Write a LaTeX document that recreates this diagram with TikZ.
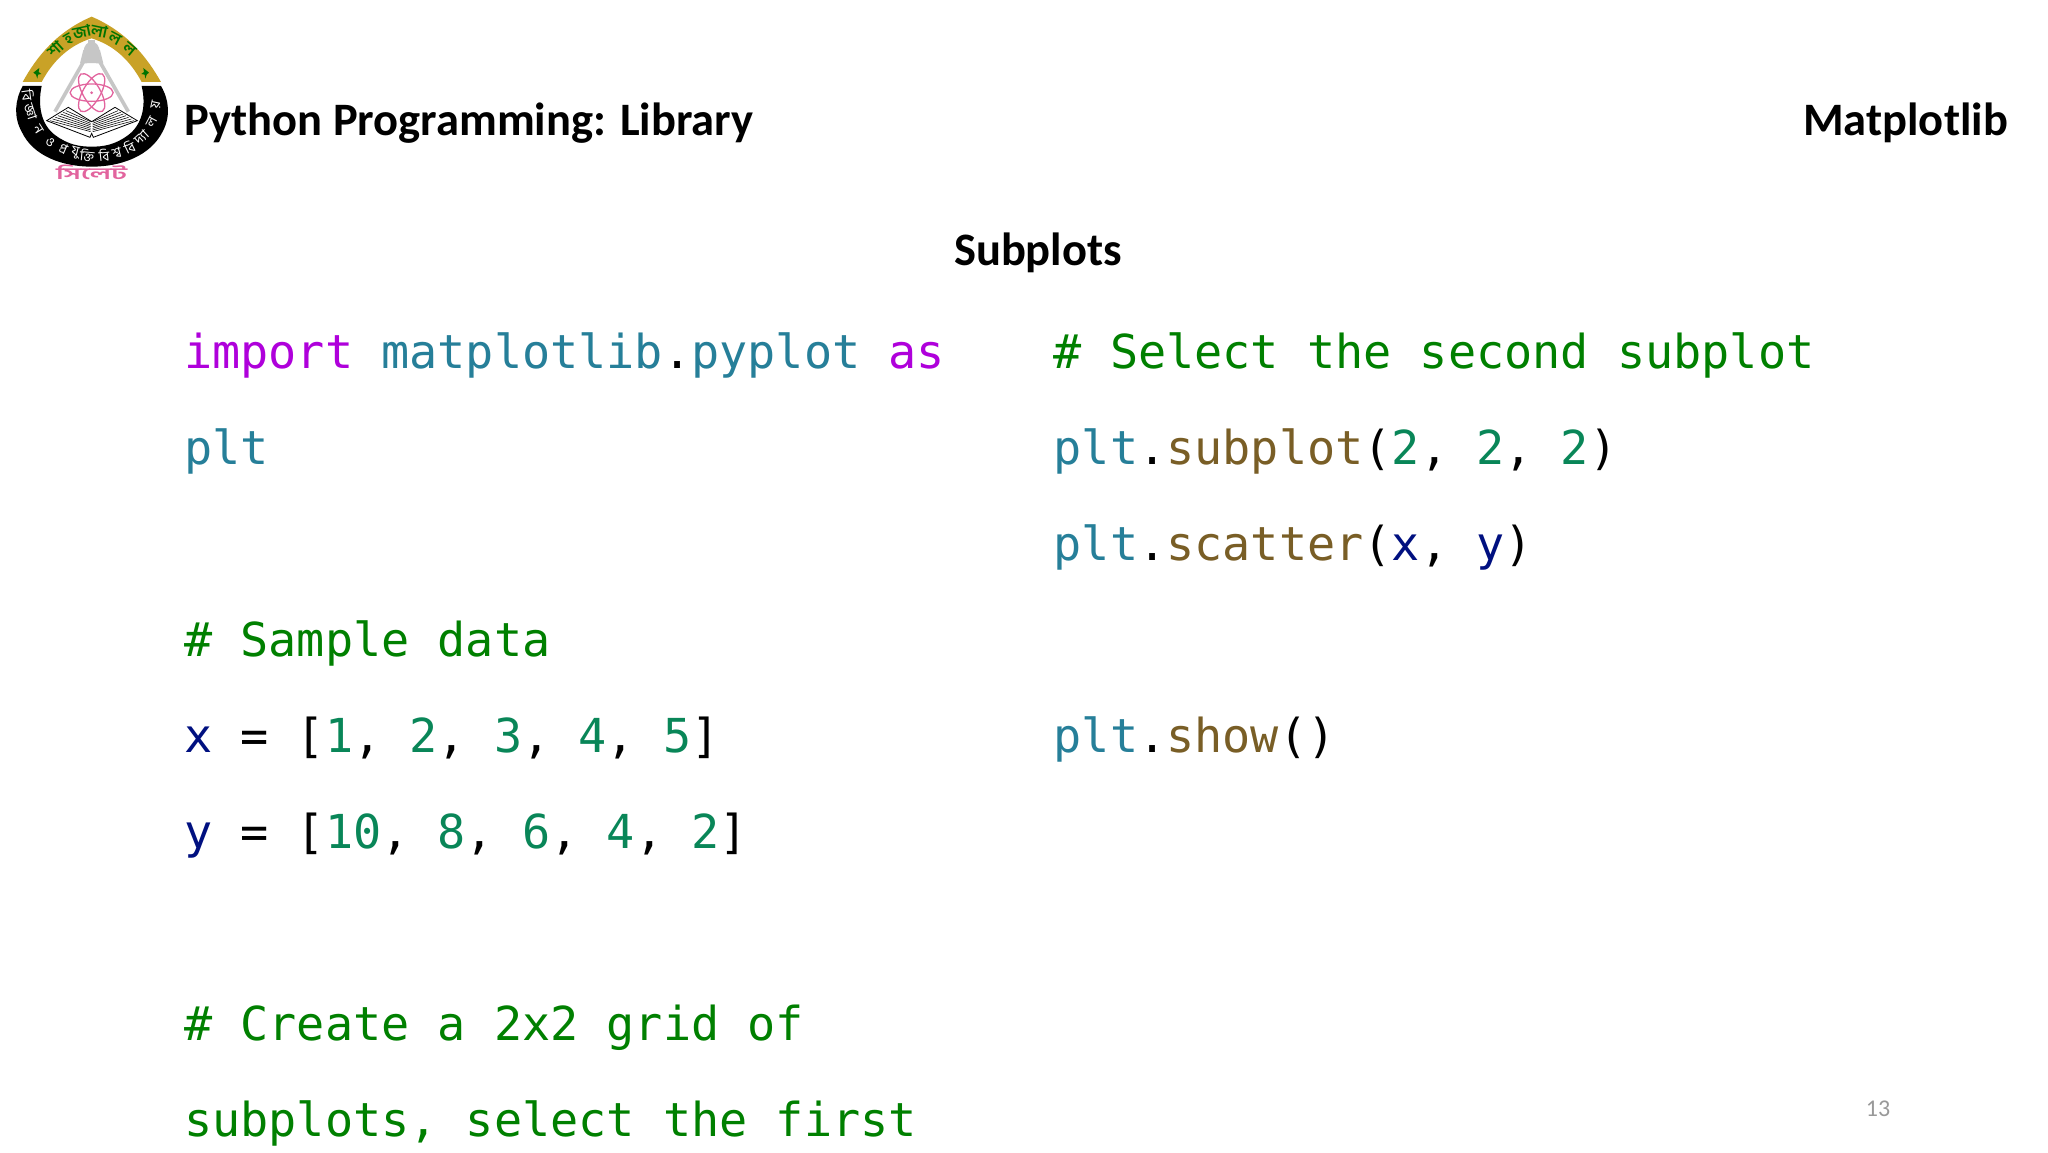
\documentclass[tikz,border=0pt]{standalone}
\usepackage{fontspec}
\setmainfont{Carlito}
\setmonofont{DejaVu Sans Mono}
\newfontfamily\bnfont[Script=Bengali]{Hind Siliguri}
\definecolor{kw}{HTML}{AF00DB}
\definecolor{cl}{HTML}{267F99}
\definecolor{cm}{HTML}{008000}
\definecolor{nu}{HTML}{098658}
\definecolor{va}{HTML}{001080}
\definecolor{fn}{HTML}{795E26}
\definecolor{gold}{HTML}{C9A227}
\definecolor{lpink}{HTML}{E2649E}
\newcommand{\K}[1]{\textcolor{kw}{#1}}
\newcommand{\C}[1]{\textcolor{cl}{#1}}
\newcommand{\G}[1]{\textcolor{cm}{#1}}
\newcommand{\N}[1]{\textcolor{nu}{#1}}
\newcommand{\V}[1]{\textcolor{va}{#1}}
\newcommand{\F}[1]{\textcolor{fn}{#1}}
\tikzset{
 head/.style={font=\fontsize{46.5}{46.5}\selectfont\bfseries,inner sep=0pt,anchor=base},
 code/.style={font=\fontsize{46.8}{46.8}\selectfont\ttfamily,inner sep=0pt,anchor=base west,text=black},
 band/.style={font=\bnfont\fontsize{13.5}{13.5}\selectfont,text=white,inner sep=0pt},
 arch/.style={font=\bnfont\bfseries\fontsize{16}{16}\selectfont,text=green!45!black,inner sep=0pt},
}
\begin{document}
\begin{tikzpicture}[x=1pt,y=-1pt]
\useasboundingbox (0,0) rectangle (2048,1152);
\fill[white] (0,0) rectangle (2048,1152);
% logo
\begin{scope}[x=0.3333pt,y=-0.3333pt]
\fill[black] (68,258) .. controls (45,300) and (40,350) .. (65,395) .. controls (100,470) and (190,500) .. (275,500) .. controls (360,500) and (450,470) .. (488,395) .. controls (512,350) and (508,300) .. (483,258) -- (425,258) .. controls (440,320) and (425,375) .. (385,405) .. controls (345,435) and (310,440) .. (275,440) .. controls (240,440) and (205,435) .. (165,405) .. controls (125,375) and (112,320) .. (125,258) -- cycle;
\fill[gold] (68,246) .. controls (110,170) and (170,95) .. (275,50) .. controls (380,95) and (440,170) .. (483,246) -- (425,246) .. controls (390,180) and (340,135) .. (275,115) .. controls (210,135) and (160,180) .. (125,246) -- cycle;
\node[arch,rotate=42] (a1) at (166,148) {শা};
\node[arch,rotate=30] (a2) at (205,116) {হ};
\node[arch,rotate=12] (a3) at (245,95) {জা};
\node[arch,rotate=-12] (a4) at (298,94) {লা};
\node[arch,rotate=-28] (a5) at (345,115) {ল};
\node[arch,rotate=-40] (a6) at (388,148) {ল};
\fill[green!45!black] (100,218) -- (118,204) -- (116,216) -- (124,222) -- (114,224) -- (112,236) -- (108,224) -- cycle;
\fill[green!45!black] (447,218) -- (430,204) -- (432,216) -- (424,222) -- (434,224) -- (436,236) -- (440,224) -- cycle;
% compass
\draw[gray!45,line width=3.6pt] (262,165) -- (165,335);
\draw[gray!45,line width=3.6pt] (288,165) -- (385,335);
\fill[gray!45] (265,120) rectangle (285,135);
\fill[gray!45] (275,155) ellipse (8pt and 10pt);
\fill[gray!45] (250,150) -- (300,150) -- (310,190) -- (240,190) -- cycle;
\fill[white] (262,190) -- (288,190) -- (295,210) -- (255,210) -- cycle;
% atom
\foreach \r in {0,60,120}
 \draw[lpink,line width=1.3pt,rotate around={\r:(275,278)}] (275,278) ellipse (21.5pt and 8.7pt);
\fill[lpink] (275,278) circle (1.5pt);
% book
\fill[white,draw=black,line width=0.8pt] (140,362) -- (205,322) -- (275,365) -- (345,322) -- (412,362) -- (280,412) -- (275,400) -- (270,412) -- cycle;
\foreach \i in {0,1,...,6}{
 \draw[black,line width=0.55pt] (150+\i*8,362-\i*5) -- (272,{395-\i*5});
 \draw[black,line width=0.55pt] (402-\i*8,362-\i*5) -- (278,{395-\i*5});
}
\node[band,rotate=-82] (b1) at (84,285) {বি};
\node[band,rotate=-72] (b2) at (92,335) {জ্ঞা};
\node[band,rotate=-58] (b3) at (115,388) {ন};
\node[band,rotate=-35] (b4) at (150,428) {ও};
\node[band,rotate=-24] (b5) at (190,447) {প্র};
\node[band,rotate=-14] (b6) at (225,459) {যু};
\node[band,rotate=-5] (b7) at (262,466) {ক্তি};
\node[band,rotate=6] (b8) at (312,466) {বি};
\node[band,rotate=14] (b9) at (350,458) {শ্ব};
\node[band,rotate=26] (b10) at (388,442) {বি};
\node[band,rotate=42] (b11) at (424,412) {দ্যা};
\node[band,rotate=62] (b12) at (455,366) {ল};
\node[band,rotate=78] (b13) at (468,316) {য়};
\node[font=\bnfont\bfseries\fontsize{16}{16}\selectfont,text=lpink,inner sep=0pt,xscale=1.8,transform shape] (sy) at (275,518) {সিলেট};
\end{scope}
% header
\node[head,anchor=base west] (t1) at (184,135) {Python Programming: Library};
\node[head,anchor=base east] (t2) at (2008,135) {Matplotlib};
\node[head] (t3) at (1038,265) {Subplots};
% left column
\node[code] (l1) at (184,368) {\K{import} \C{matplotlib}.\C{pyplot} \K{as}};
\node[code] (l2) at (184,464) {\C{plt}};
\node[code] (l3) at (184,656) {\G{\# Sample data}};
\node[code] (l4) at (184,752) {\V{x} = [\N{1}, \N{2}, \N{3}, \N{4}, \N{5}]};
\node[code] (l5) at (184,848) {\V{y} = [\N{10}, \N{8}, \N{6}, \N{4}, \N{2}]};
\node[code] (l6) at (184,1040) {\G{\# Create a 2x2 grid of}};
\node[code] (l7) at (184,1136) {\G{subplots, select the first}};
% right column
\node[code] (r1) at (1053.5,368) {\G{\# Select the second subplot}};
\node[code] (r2) at (1053.5,464) {\C{plt}.\F{subplot}(\N{2}, \N{2}, \N{2})};
\node[code] (r3) at (1053.5,560) {\C{plt}.\F{scatter}(\V{x}, \V{y})};
\node[code] (r4) at (1053.5,752) {\C{plt}.\F{show}()};
\node[font=\fontsize{24}{24}\selectfont,text=gray!80,inner sep=0pt,anchor=base] (pg) at (1878,1116) {13};
\end{tikzpicture}
\end{document}
